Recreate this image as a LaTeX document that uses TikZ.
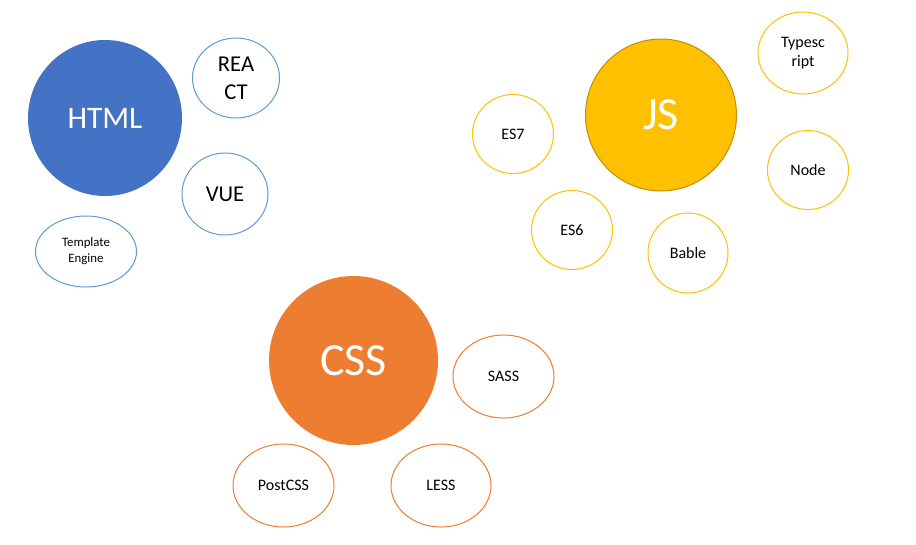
\documentclass[tikz,border=0pt]{standalone}
\usepackage{fontspec}
\setmainfont{Carlito}
\usetikzlibrary{shapes.geometric}

\definecolor{htmlblue}{RGB}{68,114,196}
\definecolor{bluering}{RGB}{91,155,213}
\definecolor{jsgold}{RGB}{255,192,0}
\definecolor{jsedge}{RGB}{191,144,0}
\definecolor{cssorange}{RGB}{237,125,49}

\tikzset{every picture/.style={line width=0.75pt}}
\tikzset{
	bigball/.style={ellipse, inner sep=0pt, text=white, align=center},
	ring/.style={ellipse, draw, fill=white, inner sep=0pt, align=center, text=black},
	bigtext/.style={font=\fontsize{34.5}{40}\selectfont},
	midtext/.style={font=\fontsize{17}{21}\selectfont},
	smalltext/.style={font=\fontsize{12}{14}\selectfont},
	tinytext/.style={font=\fontsize{9.6}{12}\selectfont}
}

\begin{document}
\begin{tikzpicture}[x=0.75pt,y=0.75pt,yscale=-1,xscale=1]
	\useasboundingbox (0,0) rectangle (916,544);

	% HTML group
	\node [bigball, fill=htmlblue, minimum width=115.5pt, minimum height=117pt, font=\fontsize{23.5}{28}\selectfont] (html) at (105,118) {HTML};
	\node [ring, draw=bluering, minimum width=65.25pt, minimum height=60pt, midtext] (react) at (236,78) {REA\\CT};
	\node [ring, draw=bluering, minimum width=64.5pt, minimum height=61.5pt, midtext] (vue) at (225,194) {VUE};
	\node [ring, draw=bluering, minimum width=75.75pt, minimum height=53.25pt, tinytext] (tmpl) at (86,251.5) {Template\\Engine};

	% JS group
	\node [bigball, fill=jsgold, draw=jsedge, minimum width=113.25pt, minimum height=114pt, bigtext] (js) at (661,115) {JS};
	\node [ring, draw=jsgold, minimum width=67.5pt, minimum height=61.5pt, smalltext] (ts) at (803,53) {Typesc\\ript};
	\node [ring, draw=jsgold, minimum width=60.75pt, minimum height=59.25pt, smalltext] (es7) at (513,134) {ES7};
	\node [ring, draw=jsgold, minimum width=60.75pt, minimum height=59.25pt, smalltext] (nodejs) at (808,170) {Node};
	\node [ring, draw=jsgold, minimum width=60.75pt, minimum height=59.25pt, smalltext] (es6) at (572,230) {ES6};
	\node [ring, draw=jsgold, minimum width=60pt, minimum height=60pt, smalltext] (bable) at (688,253) {Bable};

	% CSS group
	\node [bigball, fill=cssorange, minimum width=126.75pt, minimum height=126.75pt, bigtext] (css) at (353.5,360.5) {CSS};
	\node [ring, draw=cssorange, minimum width=75.75pt, minimum height=62.25pt, smalltext] (sass) at (503.5,376.5) {SASS};
	\node [ring, draw=cssorange, minimum width=75.75pt, minimum height=62.25pt, smalltext] (postcss) at (283.5,485.5) {PostCSS};
	\node [ring, draw=cssorange, minimum width=75pt, minimum height=62.25pt, smalltext] (less) at (441,485.5) {LESS};

\end{tikzpicture}
\end{document}
